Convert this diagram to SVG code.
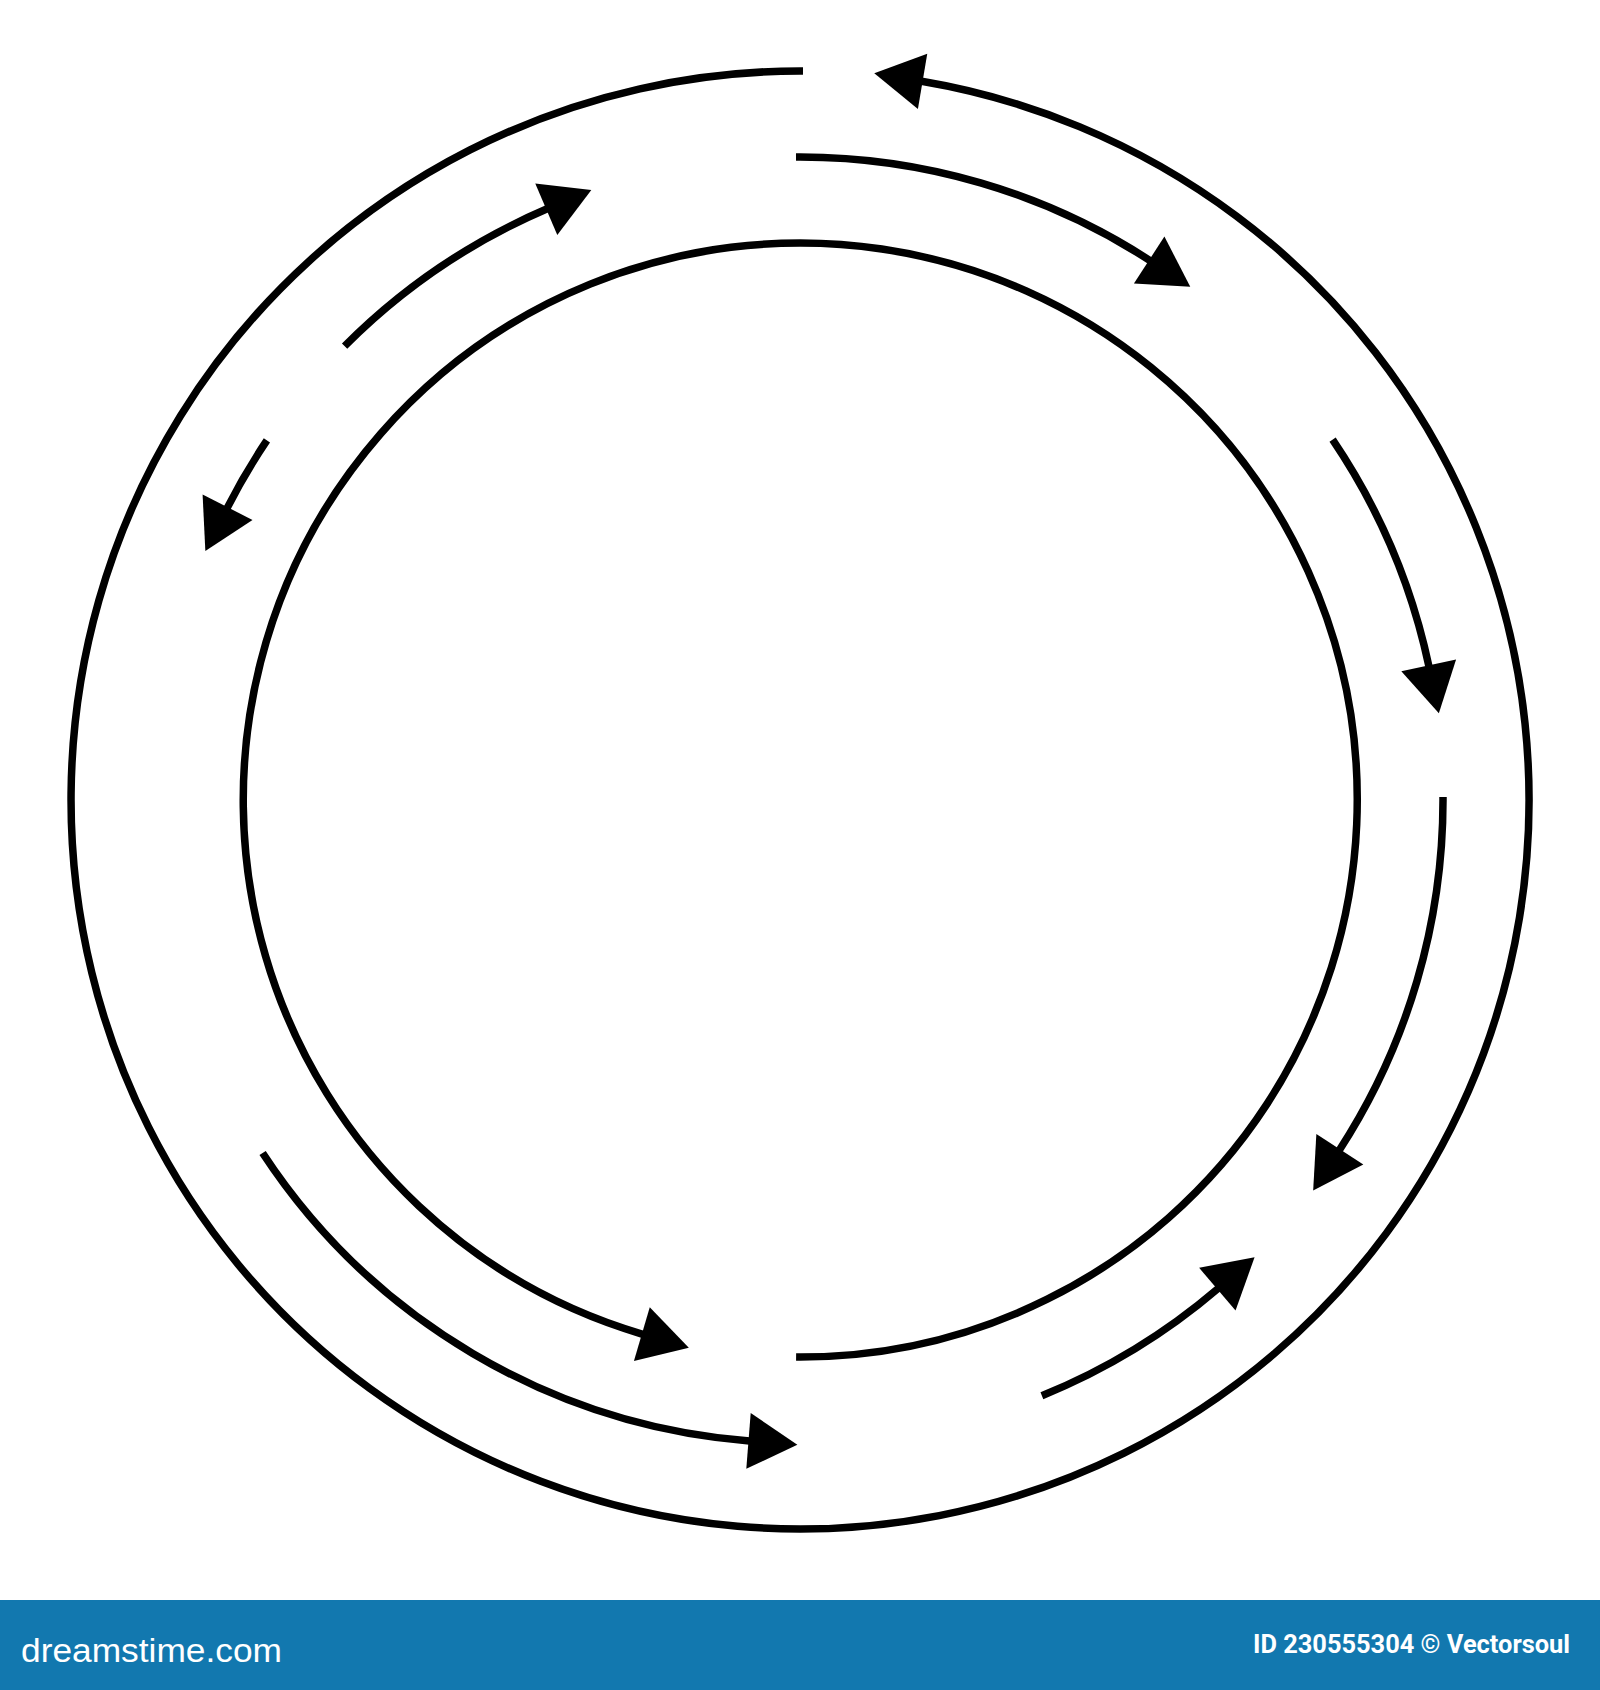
<svg xmlns="http://www.w3.org/2000/svg" width="1600" height="1690" viewBox="0 0 1600 1690">
  <style>
    .arc { fill: none; stroke: #000; stroke-width: 7.5; stroke-linecap: butt; }
    .head { marker-end: url(#arrow); }
    .bar { fill: #1278af; }
    .logo { font-family: "Liberation Sans", Arial, sans-serif; font-size: 34px; fill: #fff; }
    .credit { font-family: Roboto, "Liberation Sans", sans-serif; font-weight: bold; font-size: 25px; fill: #fff; }
  </style>
  <defs>
    <marker id="arrow" markerUnits="userSpaceOnUse" viewBox="0 -30 52 60" refX="1" refY="0" markerWidth="52" markerHeight="60" orient="auto" overflow="visible">
      <path d="M0,-28 L49,0 L0,28 Z" fill="#000"/>
    </marker>
  </defs>
  <rect width="1600" height="1690" fill="#fff"/>
  <g id="connectors">
    <path id="outer-ring" class="arc head" d="M803,71 A729,729 0 1 0 921.6,81.2"/>
    <path id="inner-ring" class="arc head" d="M796.1,1357 A557,557 0 1 0 642.8,1334.3"/>
    <path id="arrow-upper-left" class="arc head" d="M344.6,346.1 A643,643 0 0 1 547.2,208.8"/>
    <path id="arrow-top-right" class="arc head" d="M796,157 A643,643 0 0 1 1150,260.6"/>
    <path id="arrow-right-upper" class="arc head" d="M1332.6,439.7 A643,643 0 0 1 1428.9,666.3"/>
    <path id="arrow-right-lower" class="arc head" d="M1443,797 A643,643 0 0 1 1339.3,1150.2"/>
    <path id="arrow-bottom-right" class="arc head" d="M1041.9,1395.7 A643,643 0 0 0 1218.1,1288.5"/>
    <path id="arrow-bottom-left" class="arc head" d="M262.6,1153 A643,643 0 0 0 749.5,1441"/>
    <path id="arrow-left-short" class="arc head" d="M266.9,440.4 A643,643 0 0 0 227.1,508.1"/>
  </g>
  <g id="footer">
    <rect class="bar" x="0" y="1600" width="1600" height="90"/>
    <text class="logo" x="21" y="1662" textLength="261" lengthAdjust="spacingAndGlyphs">dreamstime.com</text>
    <text class="credit" x="1253" y="1653" textLength="317" lengthAdjust="spacingAndGlyphs">ID 230555304 © Vectorsoul</text>
  </g>
</svg>
